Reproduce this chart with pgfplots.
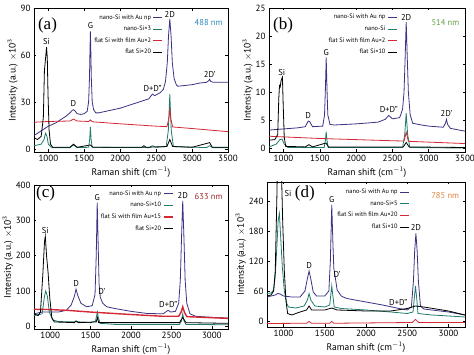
\documentclass[border=0pt]{standalone}
\usepackage{fontspec}
\setmainfont{PT Sans}
\newfontfamily\serifp{Liberation Serif}
\usepackage{pgfplots}
\pgfplotsset{compat=1.18}
\definecolor{navy}{RGB}{58,50,130}
\definecolor{tealc}{RGB}{30,122,108}
\definecolor{redc}{RGB}{212,40,52}
\definecolor{c488}{RGB}{46,134,193}
\definecolor{c514}{RGB}{96,160,70}
\definecolor{c633}{RGB}{150,40,40}
\definecolor{c785}{RGB}{226,130,60}
\tikzset{pk/.style={font=\fontsize{8.5}{9}\selectfont, anchor=south, inner sep=1pt}}
\pgfplotsset{
  panel/.style={
    scale only axis,
    xmin=800,
    /pgf/number format/assume math mode=true,
    /pgf/number format/1000 sep={},
    tick label style={font=\fontsize{9}{10}\selectfont},
    label style={font=\fontsize{9.5}{10}\selectfont},
    xlabel={Raman shift (cm$^{-1}$)},
    ylabel={Intensity (a.u.) $\times$10$^3$},
    xlabel style={yshift=2pt},
    ylabel style={yshift=-4pt},
    major tick length=2.5pt,
    tick style={black, line width=0.5pt},
    axis line style={line width=0.5pt},
    legend image code/.code={\draw[##1] (0pt,0pt) -- (9pt,0pt);},
    legend plot pos=right,
    legend cell align=right,
    legend style={draw=none, fill=none, font=\fontsize{6.3}{7}\selectfont, row sep=1.6pt, inner sep=0pt, anchor=north east},
    every axis plot/.append style={line width=0.8pt},
  },
}
\begin{document}
\begin{tikzpicture}
\useasboundingbox (0,0) rectangle (474pt,355pt);
% ---------------- (a)
\begin{axis}[panel, at={(34pt,203pt)}, anchor=south west, width=194pt, height=144pt,
  xmax=3500, ymin=-2, ymax=90, ytick={0,30,60,90}, xtick={1000,1500,...,3500},
  legend style={at={(0.665,0.97)}}]
\addplot[navy] coordinates {(800,8.5)(850,10)(900,11.5)(950,13)(1000,14.5)(1050,15.5)(1100,16.5)(1150,18)(1200,19.5)(1250,21)(1300,23)(1330,24.5)(1350,25)(1370,24.3)(1400,22.5)(1450,22)(1500,22.5)(1540,24)(1560,30)(1572,45)(1580,65)(1585,75)(1590,65)(1598,45)(1610,30)(1630,25)(1660,23)(1700,23)(1800,24)(1900,25)(2000,26)(2100,27.5)(2200,29)(2300,30.5)(2400,32)(2430,34)(2450,35)(2480,34)(2520,35)(2560,36)(2600,38)(2630,43)(2655,55)(2672,72)(2690,83)(2708,72)(2725,55)(2750,45)(2780,41)(2800,40)(2900,40.5)(3000,41)(3100,42)(3200,42.5)(3230,43.5)(3245,44.5)(3260,43)(3300,42.5)(3400,42.5)(3500,42.5)};
\addlegendentry{nano-Si with Au np}
\addplot[tealc] coordinates {(800,2)(900,3)(940,6)(960,10)(980,8)(1000,3)(1050,0.8)(1300,0.8)(1350,2.5)(1400,0.8)(1560,1)(1575,6)(1585,14)(1595,6)(1610,1)(2400,0.8)(2450,2)(2500,1)(2640,1.5)(2670,12)(2690,35)(2710,12)(2740,1.5)(3200,0.8)(3245,2)(3290,0.8)(3500,0.8)};
\addlegendentry{nano-Si×3}
\addplot[redc] coordinates {(800,17)(1000,17.5)(1300,17.8)(1350,19)(1400,17.8)(1560,17.5)(1585,18.5)(1610,17.3)(2000,16)(2500,14.5)(2650,14.2)(2675,19)(2690,25)(2705,19)(2730,14)(3000,13)(3500,11)};
\addlegendentry{flat Si with film Au×2}
\addplot[black] coordinates {(800,7)(850,6)(900,8)(930,20)(945,50)(955,55)(965,60)(975,65)(985,58)(995,35)(1010,12)(1030,3)(1060,1)(1300,1)(1350,3)(1400,1)(1585,2.5)(1620,1)(2300,1)(2330,2)(2360,1)(2650,1.5)(2690,6)(2730,1.5)(3000,1)(3245,4)(3280,1)(3500,1)};
\addlegendentry{flat Si×20}
\node[pk] at (axis cs:975,66) {Si};
\node[pk] at (axis cs:1350,26) {D};
\node[pk] at (axis cs:1585,76) {G};
\node[pk] at (axis cs:2450,36) {D+D''};
\node[pk] at (axis cs:2690,83) {2D};
\node[pk] at (axis cs:3245,45) {2D'};
\node[anchor=west, font=\serifp\fontsize{17}{17}\selectfont, inner sep=0pt] at (rel axis cs:0.02,0.88) {(a)};
\node[font=\fontsize{8.5}{9}\selectfont, text=c488] at (rel axis cs:0.9,0.9) {488 nm};
\end{axis}
% ---------------- (b)
\begin{axis}[panel, at={(269pt,203pt)}, anchor=south west, width=196pt, height=144pt,
  xmax=3500, ymin=-0.6, ymax=25, ytick={0,5,...,25}, xtick={1000,1500,...,3500},
  legend style={at={(0.655,0.97)}}]
\addplot[navy] coordinates {(800,3.3)(1000,3.5)(1200,3.7)(1300,3.9)(1340,4.9)(1360,4.8)(1400,3.9)(1540,4.0)(1565,6)(1578,11)(1588,16.2)(1598,11)(1610,6)(1640,4.3)(1700,4.2)(2000,4.4)(2300,4.7)(2400,5.2)(2450,5.9)(2500,5.3)(2600,5.5)(2640,7)(2660,10)(2675,16)(2690,22.5)(2705,16)(2720,10)(2745,6)(2780,4.5)(2900,4.2)(3000,4.0)(3200,3.8)(3230,4.5)(3245,5.2)(3260,4.3)(3300,3.6)(3500,3.1)};
\addlegendentry{nano-Si with Au np}
\addplot[tealc] coordinates {(800,0.3)(900,0.8)(950,1.6)(980,1.7)(1010,0.8)(1060,0.2)(1560,0.2)(1577,1.5)(1588,3.0)(1598,1.5)(1615,0.2)(2640,0.2)(2670,2.5)(2690,6.3)(2710,2.5)(2740,0.2)(3500,0.1)};
\addlegendentry{nano-Si}
\addplot[redc] coordinates {(800,2.2)(1500,1.8)(2500,1.4)(2660,1.35)(2690,2.9)(2720,1.3)(3500,0.9)};
\addlegendentry{flat Si with film Au×2}
\addplot[black] coordinates {(800,1.5)(880,1.6)(920,2.5)(935,9)(945,11.2)(955,11)(965,12)(975,12.4)(985,12.7)(995,8)(1010,2)(1030,0.4)(1300,0.3)(1350,0.7)(1400,0.3)(1585,1.0)(1620,0.3)(2650,0.3)(2690,1.1)(2730,0.3)(3500,0.2)};
\addlegendentry{flat Si×10}
\node[pk] at (axis cs:975,12.8) {Si};
\node[pk] at (axis cs:1340,5.2) {D};
\node[pk] at (axis cs:1588,16.4) {G};
\node[pk] at (axis cs:2450,6.2) {D+D''};
\node[pk] at (axis cs:2690,22.6) {2D};
\node[pk] at (axis cs:3245,5.5) {2D'};
\node[anchor=west, font=\serifp\fontsize{17}{17}\selectfont, inner sep=0pt] at (rel axis cs:0.02,0.88) {(b)};
\node[font=\fontsize{8.5}{9}\selectfont, text=c514] at (rel axis cs:0.9,0.9) {514 nm};
\end{axis}
% ---------------- (c)
\begin{axis}[panel, at={(34pt,26pt)}, anchor=south west, width=194pt, height=144pt,
  xmax=3200, ymin=-8, ymax=400, ytick={0,100,...,400}, xtick={1000,1500,...,3000},
  legend style={at={(0.72,0.975)}}]
\addplot[navy] coordinates {(800,35)(900,40)(1000,40)(1100,40)(1200,45)(1260,60)(1300,85)(1320,105)(1340,88)(1380,65)(1450,55)(1520,58)(1555,90)(1570,200)(1582,350)(1592,250)(1605,120)(1620,82)(1650,65)(1700,55)(1800,50)(2000,42)(2200,36)(2400,35)(2440,42)(2460,45)(2490,40)(2550,42)(2590,65)(2610,130)(2625,250)(2640,355)(2655,250)(2670,130)(2690,65)(2730,35)(2800,28)(3000,25)(3200,23)};
\addlegendentry{nano-Si with Au np}
\addplot[tealc] coordinates {(800,30)(900,35)(930,85)(945,100)(965,85)(990,40)(1030,18)(1100,13)(1400,12)(1500,10)(1560,14)(1575,30)(1585,40)(1595,25)(1620,8)(1800,5)(2600,5)(2625,15)(2640,35)(2655,15)(2680,5)(3200,4)};
\addlegendentry{nano-Si×10}
\addplot[redc, line width=1.4pt] coordinates {(800,48)(1000,47)(1200,45)(1500,40)(2000,33)(2400,28)(2590,28)(2620,40)(2640,55)(2660,40)(2690,27)(3000,24)(3200,22)};
\addlegendentry{flat Si with film Au×15}
\addplot[black] coordinates {(800,35)(850,30)(880,40)(910,150)(930,240)(940,255)(955,200)(975,150)(995,80)(1020,25)(1050,12)(1300,10)(1320,15)(1350,10)(1570,12)(1585,25)(1600,10)(2600,10)(2640,25)(2680,10)(3200,8)};
\addlegendentry{flat Si×20}
\node[pk] at (axis cs:940,258) {Si};
\node[pk] at (axis cs:1320,108) {D};
\node[pk] at (axis cs:1582,353) {G};
\node[pk] at (axis cs:1640,85) {D'};
\node[pk] at (axis cs:2460,48) {D+D''};
\node[pk] at (axis cs:2640,358) {2D};
\node[anchor=west, font=\serifp\fontsize{17}{17}\selectfont, inner sep=0pt] at (rel axis cs:0.01,0.94) {(c)};
\node[font=\fontsize{8.5}{9}\selectfont, text=c633] at (rel axis cs:0.9,0.92) {633 nm};
\end{axis}
% ---------------- (d)
\begin{axis}[panel, at={(267pt,28pt)}, anchor=south west, width=198pt, height=145pt,
  xmax=3200, ymin=-12, ymax=278, ytick={0,60,...,240}, xtick={1000,1500,...,3000},
  legend style={at={(0.72,0.965)}}, clip=true]
\addplot[navy] coordinates {(800,48)(850,50)(900,52)(930,55)(960,54)(1000,50)(1100,48)(1200,48)(1260,60)(1290,85)(1310,100)(1330,85)(1360,58)(1400,50)(1500,50)(1550,60)(1568,120)(1585,232)(1598,160)(1610,105)(1625,90)(1650,62)(1700,50)(1750,46)(1800,44)(2000,38)(2200,32)(2400,25)(2500,22)(2550,28)(2575,80)(2590,140)(2605,175)(2620,140)(2635,80)(2660,30)(2700,24)(2900,20)(3000,18)(3200,12)};
\addlegendentry{nano-Si with Au np}
\addplot[tealc] coordinates {(800,55)(850,56)(880,62)(900,90)(920,150)(935,200)(950,215)(965,170)(985,110)(1010,60)(1040,35)(1060,28)(1150,26)(1250,30)(1290,42)(1310,55)(1330,42)(1380,30)(1500,28)(1560,32)(1575,55)(1585,70)(1595,55)(1615,28)(1700,25)(2000,22)(2300,18)(2500,15)(2570,18)(2585,45)(2600,70)(2615,45)(2630,15)(2800,12)(3000,10)(3200,8)};
\addlegendentry{nano-Si×5}
\addplot[redc] coordinates {(800,-5)(1280,-4.5)(1310,-1)(1340,-4.5)(1560,-4.5)(1585,-1)(1610,-4.5)(2560,-3)(2600,3)(2640,-3)(3200,-3)};
\addlegendentry{flat Si with film Au×20}
\addplot[black] coordinates {(800,50)(850,52)(880,60)(900,100)(920,250)(935,400)(960,400)(975,300)(990,200)(1010,100)(1030,40)(1050,15)(1100,12)(1200,18)(1280,22)(1310,30)(1340,22)(1500,22)(1585,26)(1650,22)(2000,20)(2300,20)(2500,25)(2600,30)(2700,28)(3000,20)(3200,12)};
\addlegendentry{flat Si×10}
\node[pk, anchor=west] at (axis cs:1000,255) {Si};
\node[pk] at (axis cs:1310,102) {D};
\node[pk] at (axis cs:1585,234) {G};
\node[pk] at (axis cs:1650,85) {D'};
\node[pk] at (axis cs:2390,28) {D+D''};
\node[pk] at (axis cs:2605,178) {2D};
\node[anchor=west, font=\serifp\fontsize{17}{17}\selectfont, inner sep=0pt] at (rel axis cs:0.14,0.92) {(d)};
\node[font=\fontsize{8.5}{9}\selectfont, text=c785] at (rel axis cs:0.9,0.91) {785 nm};
\end{axis}
\end{tikzpicture}
\end{document}
